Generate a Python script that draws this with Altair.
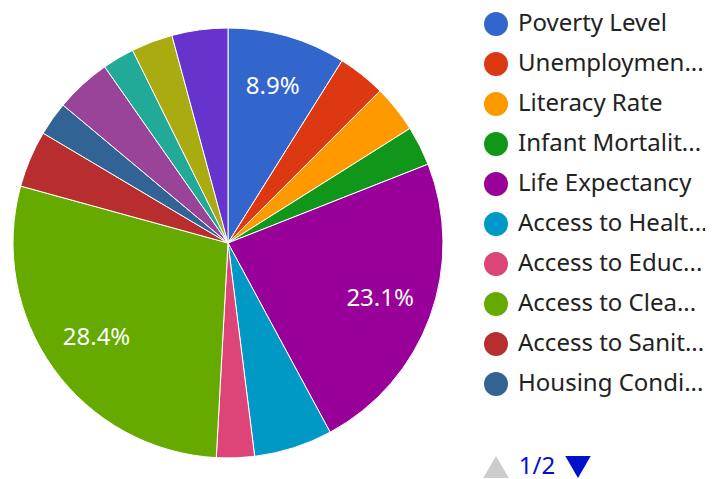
import altair as alt
import pandas as pd

categories = [
    "Poverty Level", "Unemployment Rate", "Literacy Rate", "Infant Mortality Rate",
    "Life Expectancy", "Access to Healthcare", "Access to Education",
    "Access to Clean Water", "Access to Sanitation", "Housing Conditions",
    "Income Inequality", "Crime Rate", "Environmental Quality", "Social Mobility",
]
values = [8.9, 3.6, 3.56, 2.97, 23.1, 5.9, 2.85, 28.4, 4.27, 2.55, 4.2, 2.4, 3.12, 4.2]
colors = [
    "#3366cc", "#dc3912", "#ff9900", "#109618", "#990099", "#0099c6", "#dd4477",
    "#66aa00", "#b82e2e", "#316395", "#994499", "#22aa99", "#aaaa11", "#6633cc",
]
legend_page1 = categories[:10]
legend_shown = [
    "Poverty Level", "Unemploymen...", "Literacy Rate", "Infant Mortalit...",
    "Life Expectancy", "Access to Healt...", "Access to Educ...", "Access to Clea...",
    "Access to Sanit...", "Housing Condi...",
]

total = sum(values)
df = pd.DataFrame({
    "category": categories,
    "value": values,
    "order": list(range(len(categories))),
    "pct": [v / total * 100 for v in values],
})
df["label"] = df["pct"].map(lambda p: f"{p:.1f}%" if p >= 8 else "")

label_expr = "datum.label"
for full, short in zip(legend_page1, legend_shown):
    if full != short:
        label_expr = f"datum.label === '{full}' ? '{short}' : ({label_expr})"

color = alt.Color(
    "category:N",
    scale=alt.Scale(domain=categories, range=colors),
    legend=alt.Legend(
        title=None, values=legend_page1, orient="none", legendX=476, legendY=4,
        symbolType="circle", symbolSize=576, symbolStrokeWidth=0,
        labelFontSize=24, labelFont="Noto Sans", labelColor="#222222",
        labelLimit=400, labelOffset=10, rowPadding=16, padding=0,
        labelExpr=label_expr,
    ),
)

base = alt.Chart(df).encode(
    theta=alt.Theta("value:Q", stack=True),
    order=alt.Order("order:Q"),
)

pie = base.mark_arc(outerRadius=215, stroke="white", strokeWidth=1).encode(color=color)

labels = base.mark_text(radius=162, fontSize=24, font="Noto Sans", color="white").encode(
    text="label:N"
)

pager_df = pd.DataFrame({"page": ["1/2"]})
up = alt.Chart(pager_df).mark_point(shape="triangle-up", filled=True, size=650, color="#cccccc", opacity=1).encode(
    x=alt.value(488), y=alt.value(459)
)
page_txt = alt.Chart(pager_df).mark_text(fontSize=24, font="Noto Sans", color="#0011cc").encode(
    x=alt.value(529), y=alt.value(459), text="page:N"
)
down = alt.Chart(pager_df).mark_point(shape="triangle-down", filled=True, size=650, color="#0011cc", opacity=1).encode(
    x=alt.value(570), y=alt.value(459)
)

chart = alt.layer(pie, labels, up, page_txt, down).properties(
    width=440, height=470,
    autosize=alt.AutoSizeParams(type="none"),
    padding={"left": 0, "top": 0, "right": 257, "bottom": 0},
).configure_view(stroke=None)

chart.save("out.html", embed_options={"renderer": "svg", "actions": False})
